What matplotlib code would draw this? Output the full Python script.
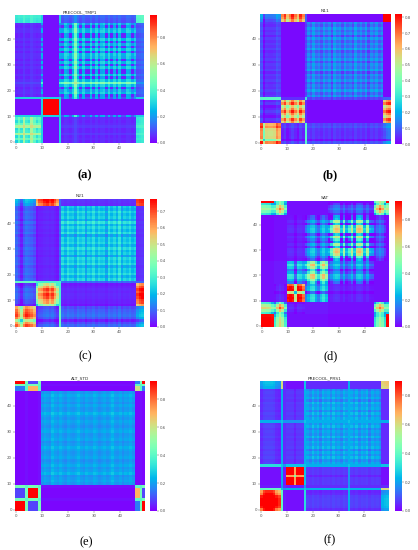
import numpy as np
import matplotlib
matplotlib.use("Agg")
import matplotlib.pyplot as plt

N = 50  # matrix size

# ---- (a) PRECOOL_TMP1 ----
a_starts = [0, 10, 11, 17, 18, 47]
a_ids = [0, 1, 2, 1, 3, 4]
a_base = [[0.20, 0.30, 0.02, 0.03, 0.30],
          [0.30, 0.30, 0.30, 0.10, 0.30],
          [0.02, 0.30, 0.97, 0.02, 0.02],
          [0.03, 0.10, 0.02, 0.04, 0.05],
          [0.30, 0.30, 0.02, 0.05, 0.35]]
a_amp = [[0.45, 0.00, 0.00, 0.05, 0.10],
         [0.00, 0.00, 0.00, 0.30, 0.00],
         [0.00, 0.00, 0.00, 0.00, 0.00],
         [0.05, 0.30, 0.00, 0.40, 0.12],
         [0.10, 0.00, 0.00, 0.12, 0.10]]
a_stripe = [0.2, 0.6, 0.3, 1.0, 0.4, 0.3, 1.0, 0.6, 0.3, 0.5,
            0, 0, 0, 0, 0, 0, 0, 0,
            0.0, 0.7, 0.5, 0.0, 0.7, 1.4, 0.7, 0.0, 0.7, 0.0,
            0.0, 0.7, 0.0, 0.7, 0.0, 0.6, 0.7, 0.0, 0.7, 0.0,
            0.6, 0.0, 0.7, 0.0, 0.0, 0.7, 0.6, 0.0, 0.5,
            0.4, 0.6, 0.8]
a_mix = 0.4
a_top = 0.97

# ---- (b) N11 ----
b_starts = [0, 8, 17, 18, 47]
b_ids = [0, 1, 2, 3, 4]
b_base = [[0.50, 0.02, 0.35, 0.03, 0.05],
          [0.02, 0.50, 0.05, 0.01, 0.50],
          [0.35, 0.05, 0.30, 0.05, 0.10],
          [0.03, 0.01, 0.05, 0.04, 0.01],
          [0.05, 0.50, 0.10, 0.01, 0.80]]
b_amp = [[0.30, 0.08, 0.00, 0.08, 0.15],
         [0.08, 0.30, 0.00, 0.00, 0.30],
         [0.00, 0.00, 0.00, 0.10, 0.00],
         [0.08, 0.00, 0.10, 0.22, 0.00],
         [0.15, 0.30, 0.00, 0.00, 0.10]]
b_stripe = [1.0, -0.8, 0.2, 0.1, 0.1, 0.2, 0.9, 0.6,
            0.2, 0.8, -0.3, 0.3, 1.0, 0.3, -0.3, 0.9, 0.2,
            0.0,
            0.6, 0.2, 0.8, 0.3, 0.5, 0.1, 0.7, 0.3, 0.6, 0.0,
            0.8, 0.4, 0.6, 0.1, 0.7, 0.3, 0.5, 0.1, 0.8, 0.3,
            0.6, 0.2, 0.7, 0.0, 0.6, 0.3, 0.7, 0.2, 0.5,
            0.3, 0.8, 1.0]
b_mix = 0.0
b_top = 0.82

# ---- (c) N21 ----
c_starts = [0, 8, 17, 18, 47]
c_ids = [0, 1, 2, 3, 4]
c_base = [[0.45, 0.03, 0.35, 0.04, 0.08],
          [0.03, 0.40, 0.30, 0.02, 0.55],
          [0.35, 0.30, 0.30, 0.08, 0.10],
          [0.04, 0.02, 0.08, 0.10, 0.03],
          [0.08, 0.55, 0.10, 0.03, 0.65]]
c_amp = [[0.30, 0.10, 0.00, 0.10, 0.15],
         [0.10, 0.35, 0.00, 0.03, 0.25],
         [0.00, 0.00, 0.00, 0.10, 0.00],
         [0.10, 0.03, 0.10, 0.24, 0.03],
         [0.15, 0.25, 0.00, 0.03, 0.10]]
c_stripe = [0.8, 0.2, -0.7, 0.5, 1.0, 0.8, 0.6, 0.2,
            -0.5, 0.3, 0.4, 0.8, 1.0, 0.6, 0.9, 0.3, -0.3,
            0.0,
            0.7, 0.3, 0.8, 0.5, 0.6, 0.2, 0.8, 0.5, 0.7, 0.1,
            0.6, 0.4, 0.8, 0.3, 0.7, 0.5, 0.6, 0.1, 0.8, 0.4,
            0.7, 0.3, 0.9, 0.2, 0.6, 0.4, 0.7, 0.3, 0.5,
            0.4, 0.8, 1.0]
c_mix = 0.0
c_top = 0.775

# ---- (d) SAT ----
d_starts = [0, 5, 10, 17, 26, 44, 49]
d_ids = [0, 1, 2, 3, 4, 5, 6]
d_base = [[0.90, 0.30, 0.02, 0.02, 0.01, 0.25, 0.90],
          [0.30, 0.40, 0.03, 0.03, 0.02, 0.40, 0.20],
          [0.02, 0.03, 0.80, 0.15, 0.03, 0.02, 0.02],
          [0.02, 0.03, 0.15, 0.15, 0.05, 0.02, 0.02],
          [0.01, 0.02, 0.03, 0.05, 0.05, 0.04, 0.01],
          [0.25, 0.40, 0.02, 0.02, 0.04, 0.40, 0.30],
          [0.90, 0.20, 0.02, 0.02, 0.01, 0.30, 0.90]]
d_amp = [[0.05, 0.35, 0.00, 0.00, 0.00, 0.30, 0.05],
         [0.35, 0.45, 0.05, 0.00, 0.00, 0.40, 0.30],
         [0.00, 0.05, 0.55, 0.30, 0.05, 0.00, 0.00],
         [0.00, 0.00, 0.30, 0.55, 0.25, 0.00, 0.00],
         [0.00, 0.00, 0.05, 0.25, 0.65, 0.15, 0.00],
         [0.30, 0.40, 0.00, 0.00, 0.15, 0.45, 0.30],
         [0.05, 0.30, 0.00, 0.00, 0.00, 0.30, 0.05]]
d_stripe = [1.0, 1.0, 0.9, 0.8, 0.3,
            -0.6, 0.3, 1.0, 0.5, -0.6,
            0.2, 0.3, 0.2, -1.0, 0.3, 0.2, -0.2,
            -0.2, 0.4, 0.9, 1.0, 0.3, -0.2, 0.6, 1.0, 0.5,
            -0.3, 0.2, 0.8, 1.0, 0.9, -0.2, 0.6, -0.3, 0.1, 0.7,
            -0.2, 0.9, 1.0, 0.8, -0.2, 0.6, -0.3, -0.4,
            -0.4, 0.4, 1.0, 0.5, -0.4,
            1.0]
d_mix = 0.0
d_top = 0.94

# ---- (e) ALT_STD ----
e_starts = [0, 4, 5, 9, 10, 46, 48, 49]
e_ids = [0, 1, 2, 1, 3, 4, 1, 0]
e_base = [[0.93, 0.45, 0.08, 0.01, 0.15],
          [0.45, 0.40, 0.45, 0.02, 0.40],
          [0.08, 0.45, 0.93, 0.01, 0.70],
          [0.01, 0.02, 0.01, 0.15, 0.01],
          [0.15, 0.40, 0.70, 0.01, 0.60]]
e_amp = [[0, 0, 0, 0, 0],
         [0, 0, 0, 0, 0],
         [0, 0, 0, 0, 0],
         [0, 0, 0, 0.15, 0],
         [0, 0, 0, 0, 0]]
e_stripe = [0, 0, 0, 0, 0, 0, 0, 0, 0, 0,
            0.2, 0.5, 0.3, 0.1, 0.8, 0.4, 0.2, 0.6, 0.3, 0.1,
            0.5, 0.3, 0.2, 0.4, 0.7, 0.3, 0.1, 0.5, 0.3, 0.2,
            0.6, 0.4, 0.1, 0.3, 0.5, 0.2, 0.4, 0.8, 0.3, 0.2,
            0.5, 0.1, 0.4, 0.3, 0.6, 0.2,
            0, 0, 0, 0]
e_mix = 0.0
e_top = 0.93

# ---- (f) PRECOOL_PRS1 ----
f_starts = [0, 8, 9, 10, 17, 18, 34, 35, 47]
f_ids = [0, 1, 2, 3, 4, 5, 6, 5, 7]
f_base = [[0.75, 0.40, 0.03, 0.02, 0.30, 0.04, 0.22, 0.15],
          [0.40, 0.25, 0.18, 0.22, 0.25, 0.22, 0.25, 0.60],
          [0.03, 0.18, 0.05, 0.03, 0.18, 0.05, 0.18, 0.05],
          [0.02, 0.22, 0.03, 0.85, 0.25, 0.05, 0.18, 0.02],
          [0.30, 0.25, 0.18, 0.25, 0.25, 0.22, 0.25, 0.25],
          [0.04, 0.22, 0.05, 0.05, 0.22, 0.10, 0.22, 0.05],
          [0.22, 0.25, 0.18, 0.18, 0.25, 0.22, 0.25, 0.22],
          [0.15, 0.60, 0.05, 0.02, 0.25, 0.05, 0.22, 0.55]]
f_amp = [[0.30, 0, 0, 0, 0, 0.05, 0, 0.10],
         [0, 0, 0, 0, 0, 0, 0, 0],
         [0, 0, 0, 0, 0, 0, 0, 0],
         [0, 0, 0, 0.50, 0, 0.05, 0, 0],
         [0, 0, 0, 0, 0, 0, 0, 0],
         [0.05, 0, 0, 0.05, 0, 0.22, 0, 0],
         [0, 0, 0, 0, 0, 0, 0, 0],
         [0.10, 0, 0, 0, 0, 0, 0, 0.10]]
f_stripe = [0.0, 0.8, 1.0, 1.0, 1.0, 0.8, 0.0, -0.3,
            0.0, 0.0,
            0.2, 0.2, 0.2, -0.8, 0.2, 0.2, 0.2,
            0.0,
            0.5, 0.2, 0.7, 0.3, 0.6, 0.1, 0.7, 0.4, 0.6, 0.2,
            0.7, 0.3, 0.5, 0.2, 0.7, 0.4, 0.0, 0.6, 0.3, 0.7,
            0.2, 0.6, 0.4, 0.7, 0.1, 0.6, 0.3, 0.5, 0.2,
            0.5, 0.8, 1.0]
f_mix = 0.0
f_top = 0.90

titles = ["PRECOOL_TMP1", "N11", "N21", "SAT", "ALT_STD", "PRECOOL_PRS1"]
letters = ["(a)", "(b)", "(c)", "(d)", "(e)", "(f)"]
cbar_steps = [0.2, 0.1, 0.1, 0.2, 0.2, 0.2]


def build(starts, ids, base, amp, stripe, mix, top):
    grp = np.zeros(N, dtype=int)
    ends = starts[1:] + [N]
    for k in range(len(starts)):
        grp[starts[k]:ends[k]] = ids[k]
    base = np.array(base)
    amp = np.array(amp)
    s = np.array(stripe)
    si, sj = s[:, None], s[None, :]
    w = (1 - mix) * (si + sj) / 2 + mix * np.maximum(si, sj)
    m = base[grp][:, grp] + amp[grp][:, grp] * w
    return np.clip(m, 0, top)


mats = [build(a_starts, a_ids, a_base, a_amp, a_stripe, a_mix, a_top),
        build(b_starts, b_ids, b_base, b_amp, b_stripe, b_mix, b_top),
        build(c_starts, c_ids, c_base, c_amp, c_stripe, c_mix, c_top),
        build(d_starts, d_ids, d_base, d_amp, d_stripe, d_mix, d_top),
        build(e_starts, e_ids, e_base, e_amp, e_stripe, e_mix, e_top),
        build(f_starts, f_ids, f_base, f_amp, f_stripe, f_mix, f_top)]
tops = [a_top, b_top, c_top, d_top, e_top, f_top]

W, H = 418, 550

def box(x0, y0, x1, y1):
    return [x0 / W, 1 - y1 / H, (x1 - x0) / W, (y1 - y0) / H]

# pixel boxes of heatmaps (left, top, right, bottom)
hm_px = [(15, 15, 144, 143), (260, 14, 390, 144),
         (15, 199, 144, 327), (261, 201, 389, 327),
         (15, 381, 145, 511), (260, 381, 389, 511)]
cb_x = [150, 395, 150, 395, 150, 395]
lab_px = [(85, 175), (330, 175), (85, 356), (331, 356), (86, 542), (330, 540)]

fig = plt.figure(figsize=(W / 100, H / 100), dpi=100)

for k in range(6):
    x0, y0, x1, y1 = hm_px[k]
    ax = fig.add_axes(box(x0, y0, x1, y1))
    im = ax.imshow(mats[k], cmap="rainbow", origin="lower", interpolation="nearest",
                   vmin=0, vmax=tops[k], aspect="auto")
    ax.set_xticks([0, 10, 20, 30, 40])
    ax.set_yticks([0, 10, 20, 30, 40])
    ax.tick_params(labelsize=2.8, length=1.2, width=0.3, pad=1, colors="#555555")
    for sp in ax.spines.values():
        sp.set_visible(False)
    ax.set_title(titles[k], fontsize=3.2, pad=1.5, color="#333333")

    cax = fig.add_axes(box(cb_x[k], y0, cb_x[k] + 7, y1))
    cb = fig.colorbar(im, cax=cax)
    cb.set_ticks(np.arange(0, tops[k] + 0.001, cbar_steps[k]))
    cb.ax.yaxis.set_major_formatter(matplotlib.ticker.FormatStrFormatter("%.1f"))
    cb.ax.tick_params(labelsize=2.8, length=1.2, width=0.3, pad=1, colors="#555555")
    cb.outline.set_visible(False)

    lx, ly = lab_px[k]
    fig.text(lx / W, 1 - ly / H, letters[k], ha="center", va="center",
             fontsize=9, family="Liberation Serif",
             fontweight="bold" if k < 2 else "normal")

fig.savefig("out.png", dpi=100)
